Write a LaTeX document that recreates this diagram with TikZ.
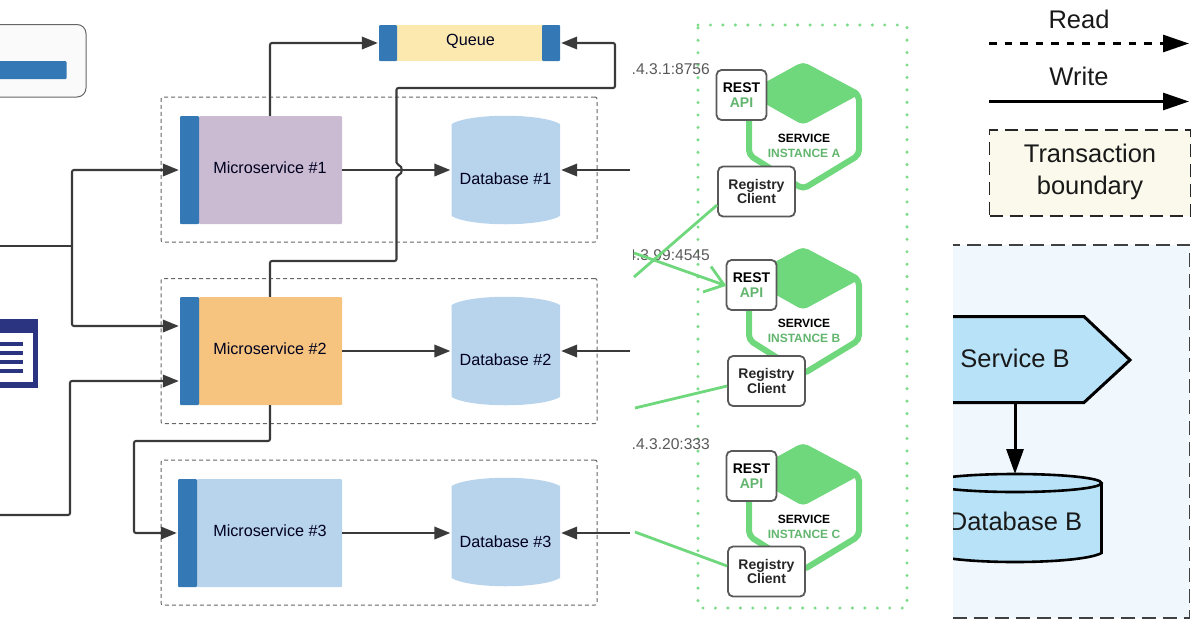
\documentclass[tikz,border=0pt]{standalone}
\usepackage{fontspec}
\setmainfont{Liberation Sans}
\usetikzlibrary{arrows.meta}
\definecolor{barblue}{HTML}{3478B5}
\definecolor{paleblue}{HTML}{B8D3EC}
\definecolor{mauve}{HTML}{CBBBD2}
\definecolor{orangef}{HTML}{F6C47E}
\definecolor{queuey}{HTML}{FBE9B0}
\definecolor{linegray}{HTML}{3A3A3A}
\definecolor{dashgray}{HTML}{666666}
\definecolor{navy}{HTML}{2A3480}
\definecolor{hexgreen}{HTML}{6FD77C}
\definecolor{apigreen}{HTML}{62B56E}
\definecolor{sbfill}{HTML}{B8E2F8}
\definecolor{panelblue}{HTML}{F0F8FE}
\definecolor{legendy}{HTML}{FBF9EC}
\tikzset{
  boxat/.style n args={2}{rectangle,inner sep=0pt,minimum width=#1,minimum height=#2,align=center},
  txt/.style={font=\fontsize{16.2}{19}\selectfont,text=black!88!blue,inner sep=0pt},
  bigtxt/.style={font=\fontsize{25.5}{32}\selectfont,text=black!90,inner sep=0pt,align=center},
  dashbox/.style={draw=dashgray,line width=1pt,dash pattern=on 4pt off 3pt,rounded corners=2pt},
  bluebar/.style={fill=barblue,rounded corners=1pt},
  conn/.style={draw=linegray,line width=2.1pt,rounded corners=2pt},
  flow/.style={conn,-{Triangle[length=16pt,width=12.5pt]}},
  greenln/.style={draw=hexgreen,line width=2.8pt},
  apibox/.style={boxat={50pt}{50pt},draw=black!65,fill=white,line width=1.8pt,rounded corners=5pt,font=\fontsize{14}{15.5}\selectfont\bfseries},
  regbox/.style={boxat={77pt}{50pt},draw=black!65,fill=white,line width=1.8pt,rounded corners=5pt,font=\fontsize{14}{15.5}\selectfont\bfseries,text=black!85},
  hexlabel/.style={font=\fontsize{12}{14}\selectfont\bfseries,inner sep=0pt},
  iplabel/.style={font=\fontsize{15.6}{18}\selectfont,text=black!65,inner sep=0pt,anchor=east},
  heavy/.style={draw=black,line width=3pt},
}
\newcommand{\hexicon}[1]{%
  \begin{scope}[yshift=-#1pt]
    \draw[draw=hexgreen,line width=6pt,rounded corners=5pt] (803,65) -- (859,95) -- (859,155) -- (803,189) -- (749,155) -- (749,95) -- cycle;
    \fill[hexgreen,rounded corners=5pt] (803,62) -- (862,93) -- (803,125) -- (746,93) -- cycle;
  \end{scope}}
\newcommand{\dbshape}[1]{%
  \begin{scope}[yshift=-#1pt]
    \fill[paleblue] (451.5,8) .. controls (470,-3) and (541,-3) .. (560,8) -- (560,100) .. controls (541,111) and (470,111) .. (451.5,100) -- cycle;
  \end{scope}}
\begin{document}
\begin{tikzpicture}[x=1pt,y=-1pt]
\useasboundingbox (0,0) rectangle (1200,630);
% top-left card
\begin{scope}
  \clip (0,0) rectangle (1200,630);
  \draw[draw=black!60,fill=black!2,line width=1pt,rounded corners=9pt] (-40,24.5) rectangle (86,97);
  \fill[bluebar] (-40,61) rectangle (66.5,79);
  % document icon
  \fill[navy] (-30,319) rectangle (37.5,387.5);
  \fill[white] (-30,333) rectangle (32.5,382);
  \foreach \yy in {344,353,362,371} \fill[navy] (-30,\yy-1.8) rectangle (22.7,\yy+1.8);
\end{scope}
% transaction boxes
\node[boxat={436pt}{145pt},dashbox] (tx1) at (379,169.5) {};
\node[boxat={436pt}{145pt},dashbox] (tx2) at (379,351) {};
\node[boxat={436pt}{145pt},dashbox] (tx3) at (379,532.5) {};
% microservices
\node[boxat={143pt}{108pt},fill=mauve,rounded corners=1pt] (ms1body) at (270.5,170) {};
\node[txt] (ms1t) at (270,168) {Microservice \#1};
\node[boxat={19pt}{108pt},bluebar] (ms1) at (189.5,170) {};
\node[boxat={143pt}{108pt},fill=orangef,rounded corners=1pt] (ms2body) at (270.5,351) {};
\node[txt] (ms2t) at (270,349) {Microservice \#2};
\node[boxat={19pt}{108pt},bluebar] (ms2) at (189.5,351) {};
\node[boxat={145pt}{108pt},fill=paleblue,rounded corners=1pt] (ms3body) at (269.5,533) {};
\node[txt] (ms3t) at (270,530.5) {Microservice \#3};
\node[boxat={19pt}{108pt},bluebar] (ms3) at (187.5,533) {};
% databases
\dbshape{116}\dbshape{297}\dbshape{478}
\node[boxat={108.5pt}{108pt}] (db1) at (505.75,170) {};
\node[boxat={108.5pt}{108pt}] (db2) at (505.75,351) {};
\node[boxat={108.5pt}{108pt}] (db3) at (505.75,533) {};
\node[txt] (db1t) at (505.5,179) {Database \#1};
\node[txt] (db2t) at (505.5,360) {Database \#2};
\node[txt] (db3t) at (505.5,541.5) {Database \#3};
% queue
\node[boxat={146pt}{36pt},fill=queuey] (qbody) at (470,43) {};
\node[txt] (qt) at (470.5,41.5) {Queue};
\node[boxat={18pt}{36pt},bluebar] (qin) at (388,43) {};
\node[boxat={18pt}{36pt},bluebar] (qout) at (551,43) {};
% free ends
\coordinate (leftA) at (0,246);
\coordinate (leftB) at (0,515);
\coordinate (imgA) at (630,170);
\coordinate (imgB) at (630,351);
\coordinate (imgC) at (630,533);
% connectors
\draw[conn] (leftA) -- (72,246);
\draw[flow] (72,246) |- ([xshift=-1pt]ms1.west);
\draw[flow] (72,246) |- ([xshift=-1pt,yshift=25pt]ms2.west);
\draw[flow] (leftB) -- (70,515) -- (70,381) -- ([xshift=-1pt,yshift=-30pt]ms2.west);
\draw[flow] (ms2body.south) ++(-0.5,0) -- (270,441) -- (134,441) -- (134,533) -- ([xshift=-1pt]ms3.west);
\draw[flow] (ms1body.north) ++(-0.5,0) -- (270,43) -- ([xshift=-1pt]qin.west);
\draw[flow] (ms2body.north) ++(-0.5,0) -- (270,261) -- (396.5,261) -- (396.5,175.5)
   .. controls (403,174) and (403,166) .. (396.5,164.5)
   -- (396.5,88) -- (615,88) -- (615,43) -- ([xshift=1pt]qout.east);
\draw[flow] (ms1body.east) -- ([xshift=-1pt]db1.west);
\draw[flow] (ms2body.east) -- ([xshift=-1pt]db2.west);
\draw[flow] (ms3body.east) -- ([xshift=-1pt]db3.west);
\draw[flow] (imgA) -- ([xshift=1pt]db1.east);
\draw[flow] (imgB) -- ([xshift=1pt]db2.east);
\draw[flow] (imgC) -- ([xshift=1pt]db3.east);
% service registry image
\draw[draw=hexgreen!90!white,line width=3.4pt,line cap=round,dash pattern=on 0pt off 12.45pt] (698,25) -- (907,25) -- (907,608) -- (698,608) -- cycle;
\hexicon{0}\hexicon{185}\hexicon{381}
\node[hexlabel] (sa) at (804,138) {SERVICE};
\node[hexlabel,text=apigreen] (ia) at (804,153) {INSTANCE A};
\node[hexlabel] (sb) at (804,323.5) {SERVICE};
\node[hexlabel,text=apigreen] (ib) at (804,338.5) {INSTANCE B};
\node[hexlabel] (sc) at (804,519) {SERVICE};
\node[hexlabel,text=apigreen] (ic) at (804,534) {INSTANCE C};
\node[apibox] (apia) at (741.5,95) {REST\\[-1pt]\textcolor{apigreen}{API}};
\node[apibox] (apib) at (751.5,285) {REST\\[-1pt]\textcolor{apigreen}{API}};
\node[apibox] (apic) at (751.5,476) {REST\\[-1pt]\textcolor{apigreen}{API}};
\node[regbox] (rega) at (756.5,191.5) {Registry\\[-1pt]Client};
\node[regbox] (regb) at (766.5,381) {Registry\\[-1pt]Client};
\node[regbox] (regc) at (766.5,571.5) {Registry\\[-1pt]Client};
\begin{scope}
  \clip (633,0) rectangle (1200,630);
  \node[iplabel] (ipa) at (710,69) {.4.3.1:8756};
  \node[iplabel] (ipb) at (710,255.5) {4.3.99:4545};
  \node[iplabel] (ipc) at (710,444) {.4.3.20:333};
\end{scope}
\coordinate (ga) at (634,277);
\coordinate (gb) at (634,253);
\coordinate (gc) at (635,408);
\coordinate (gd) at (635,532);
\draw[greenln] (ga) -- (rega.west |- 0,205);
\draw[greenln] (gc) -- (regb.west |- 0,386);
\draw[greenln] (gd) -- (regc.west |- 0,566);
\coordinate (gtip) at ([xshift=-1.5pt]apib.west);
\draw[greenln] (gb) -- (gtip);
\draw[greenln] (711,266.5) -- (gtip) -- (703,292);
% legend
\node[bigtxt] (rd) at (1079,19) {Read};
\coordinate (rs) at (989,43.5); \coordinate (re) at (1189,43.5);
\draw[draw=black,line width=2.8pt,dash pattern=on 7.5pt off 8pt,-{Triangle[length=26pt,width=17pt]}] (rs) -- (re);
\node[bigtxt] (wr) at (1079,76) {Write};
\coordinate (ws) at (989,101.5); \coordinate (we) at (1189,101.5);
\draw[draw=black,line width=2.8pt,-{Triangle[length=26pt,width=17pt]}] (ws) -- (we);
\node[boxat={201pt}{86pt},draw=black!85,fill=legendy,line width=1.3pt,dash pattern=on 13pt off 7pt] (tb) at (1090,173) {};
\node[bigtxt] (tbt) at (1090,171.5) {Transaction\\boundary};
% right panel
\begin{scope}
  \clip (953,0) rectangle (1200,630);
  \node[boxat={300pt}{373pt},draw=black!75,fill=panelblue,line width=1.3pt,dash pattern=on 14pt off 7pt] (panel) at (1039.5,431.5) {};
  \draw[heavy,fill=sbfill,line join=miter] (900,316.5) -- (1084,316.5) -- (1130,360) -- (1084,402.5) -- (900,402.5) -- cycle;
  \node[bigtxt] (sbt) at (1015,358) {Service B};
  \coordinate (sbs) at (1015,402.5);
  \path[fill=sbfill] (928.5,483) -- (928.5,553) .. controls (950,565) and (1080,565) .. (1101.5,553) -- (1101.5,483) -- cycle;
  \draw[heavy,line width=2.6pt,fill=sbfill] (1015,483) ellipse[x radius=86.5,y radius=9];
  \draw[heavy,line width=2.6pt] (928.5,483) -- (928.5,553) .. controls (950,565) and (1080,565) .. (1101.5,553) -- (1101.5,483);
  \node[bigtxt] (dbb) at (1015.5,521) {Database B};
  \coordinate (dbtop) at (1015,474);
  \draw[draw=black,line width=3pt,-{Triangle[length=25pt,width=17pt]}] (sbs) -- (dbtop);
\end{scope}
\end{tikzpicture}
\end{document}
